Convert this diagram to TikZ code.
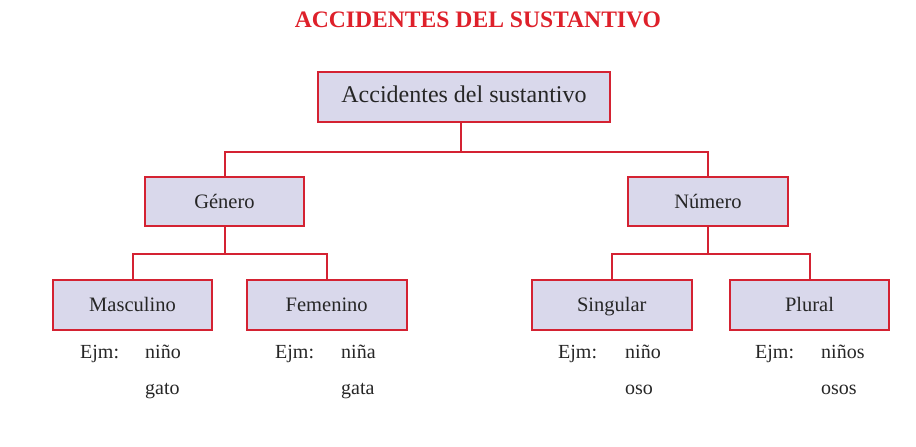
\documentclass[tikz,border=0pt]{standalone}
\usepackage{fontspec}
\setmainfont{Liberation Serif}
\definecolor{boxred}{RGB}{212,34,50}
\definecolor{titlered}{RGB}{222,32,42}
\definecolor{boxfill}{RGB}{217,216,235}
\begin{document}
\begin{tikzpicture}[x=1pt,y=-1pt,
  box/.style={draw=boxred,line width=2pt,fill=boxfill,inner sep=0pt,
    minimum height=49pt,text=black!85,text height=17pt,text depth=4pt,
    font=\fontsize{20.5}{22}\selectfont},
  link/.style={draw=boxred,line width=2pt},
  ex/.style={anchor=base west,inner sep=0pt,font=\fontsize{20}{22}\selectfont,text=black!85}]
\useasboundingbox (0,0) rectangle (916,447);
\node[font=\bfseries\fontsize{23.6}{26}\selectfont,text=titlered] (title) at (478,20) {ACCIDENTES DEL SUSTANTIVO};
\node[box,minimum width=292pt,minimum height=50pt,text height=16pt,text depth=6pt,font=\fontsize{24}{26}\selectfont] (top) at (464,97) {Accidentes del sustantivo};
\node[box,minimum width=159pt] (gen) at (224.5,201.5) {Género};
\node[box,minimum width=160pt] (num) at (708,201.5) {Número};
\node[box,minimum width=159pt,minimum height=50pt] (masc) at (132.5,304.5) {Masculino};
\node[box,minimum width=160pt,minimum height=50pt] (fem) at (326.7,304.5) {Femenino};
\node[box,minimum width=160pt,minimum height=50pt] (sing) at (611.8,304.5) {Singular};
\node[box,minimum width=159pt,minimum height=50pt] (plu) at (809.5,304.5) {Plural};
% connectors
\coordinate (j0) at (461,152);
\coordinate (j1) at (223,254);
\coordinate (j2) at (708,254);
\draw[link] (top.south -| j0) -- (j0);
\draw[link] (gen.north) |- (j0) -| (num.north);
\draw[link] (gen.south) -- (gen.south |- j1);
\draw[link] (masc.north) |- (j1) -| (fem.north);
\draw[link] (num.south) -- (num.south |- j2);
\draw[link] (sing.north) |- (j2) -| (plu.north);
% examples
\node[ex] (e1) at (80,358) {Ejm:};
\node[ex] (e1a) at (145,358) {niño};
\node[ex] (e1b) at (145,394) {gato};
\node[ex] (e2) at (275,358) {Ejm:};
\node[ex] (e2a) at (341,358) {niña};
\node[ex] (e2b) at (341,394) {gata};
\node[ex] (e3) at (558,358) {Ejm:};
\node[ex] (e3a) at (625,358) {niño};
\node[ex] (e3b) at (625,394) {oso};
\node[ex] (e4) at (755,358) {Ejm:};
\node[ex] (e4a) at (821,358) {niños};
\node[ex] (e4b) at (821,394) {osos};
\end{tikzpicture}
\end{document}
